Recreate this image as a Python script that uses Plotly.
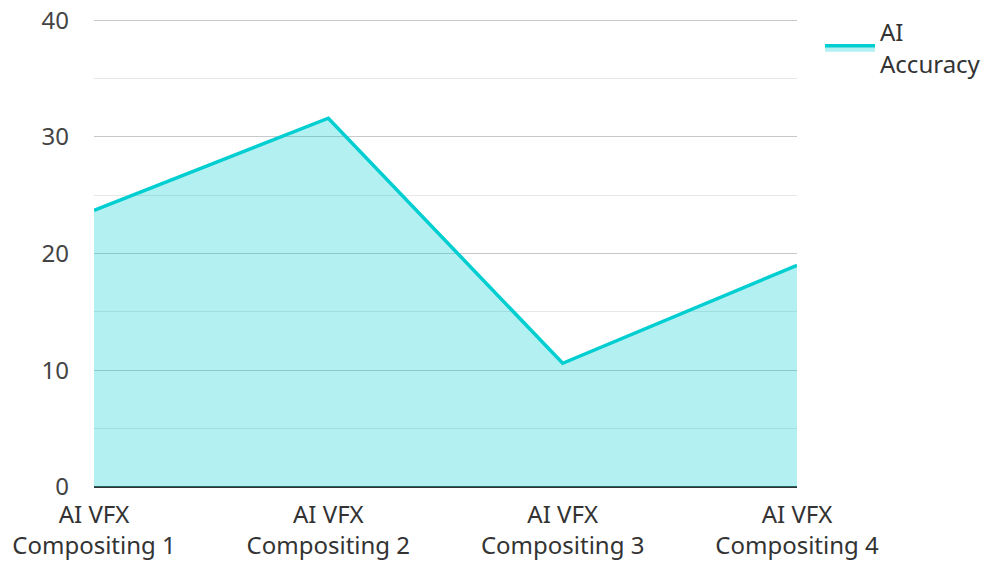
import plotly.graph_objects as go

categories = ["AI VFX<br>Compositing 1", "AI VFX<br>Compositing 2", "AI VFX<br>Compositing 3", "AI VFX<br>Compositing 4"]
accuracy = [23.7, 31.6, 10.6, 19.0]
series_name = "AI<br>Accuracy"

fig = go.Figure()
fig.add_trace(go.Scatter(
    x=categories, y=accuracy, name=series_name,
    mode="lines", fill="tozeroy",
    line=dict(color="#00CED1", width=3.5),
    fillcolor="rgba(0,206,209,0.3)",
    showlegend=True,
))

font_family = "Noto Sans, Open Sans, sans-serif"
fig.update_layout(
    width=986, height=563,
    margin=dict(l=94, r=189, t=19, b=76),
    paper_bgcolor="white", plot_bgcolor="white",
    font=dict(family=font_family, size=24, color="#444"),
    legend=dict(xref="container", yref="container", x=820/986, y=1 - 10/563,
                xanchor="left", yanchor="top", itemwidth=50,
                font=dict(size=24, color="#333"), bgcolor="rgba(0,0,0,0)"),
    xaxis=dict(
        type="category", range=[0, 3], showgrid=False, automargin=False,
        showline=False, ticks="", tickfont=dict(size=24, color="#333"),
        zeroline=False, ticklabelstandoff=11,
    ),
    yaxis=dict(
        range=[0, 40.1], tick0=0, dtick=10, showgrid=True, gridcolor="#c8c8c8", gridwidth=1,
        minor=dict(dtick=5, showgrid=True, gridcolor="#e6e6e6", gridwidth=1),
        zeroline=True, zerolinecolor="#333333", zerolinewidth=2, automargin=False,
        ticks="", ticklabelstandoff=24, tickfont=dict(size=24, color="#444"),
        showline=False,
    ),
)

fig.write_html("out.html", config={"displayModeBar": False},
               post_script="document.body.style.margin='0';")
